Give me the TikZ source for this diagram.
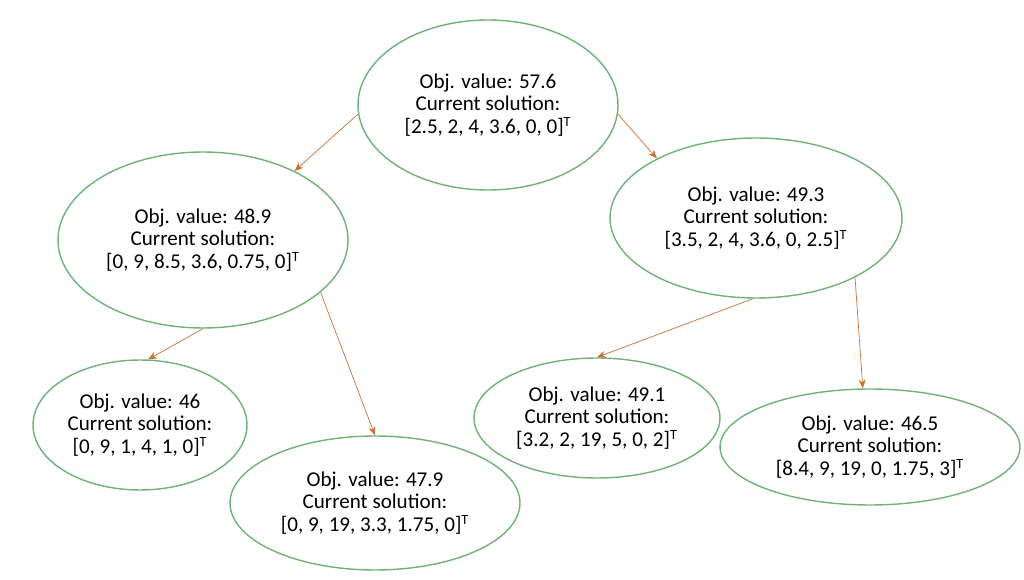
\documentclass[tikz,border=0pt]{standalone}
\usepackage{fontspec}
\setmainfont{Carlito}
\usetikzlibrary{shapes.geometric,arrows.meta}
\definecolor{ringgreen}{RGB}{112,178,118}
\definecolor{arrowbrown}{RGB}{200,112,52}
\newcommand{\solT}{$^{\mathrm{T}}$}
\begin{document}
\begin{tikzpicture}[x=0.02cm, y=-0.02cm,
  state/.style={draw=ringgreen, thick, shape=ellipse, align=center, inner sep=0pt,
  font=\fontsize{12}{13}\selectfont},
  branch/.style={draw=arrowbrown, -{Stealth[length=5pt,width=4pt]}}]
\useasboundingbox (0,0) rectangle (1024,580);
\node (root) [state, minimum width=5.2cm, minimum height=3.4cm] at (488,105)
  {Obj. value: 57.6\\ Current solution:\\ {[}2.5, 2, 4, 3.6, 0, 0{]}\solT};
\node (lmid) [state, minimum width=5.8cm, minimum height=3.52cm] at (203,240)
  {Obj. value: 48.9\\ Current solution:\\ {[}0, 9, 8.5, 3.6, 0.75, 0{]}\solT};
\node (rmid) [state, minimum width=5.84cm, minimum height=3.2cm] at (756,218)
  {Obj. value: 49.3\\ Current solution:\\ {[}3.5, 2, 4, 3.6, 0, 2.5{]}\solT};
\node (ll) [state, minimum width=4.28cm, minimum height=2.6cm] at (140,425)
  {Obj. value: 46\\ Current solution:\\ {[}0, 9, 1, 4, 1, 0{]}\solT};
\node (lm) [state, minimum width=5.8cm, minimum height=2.68cm] at (375,503)
  {Obj. value: 47.9\\ Current solution:\\ {[}0, 9, 19, 3.3, 1.75, 0{]}\solT};
\node (rm) [state, minimum width=4.92cm, minimum height=2.4cm] at (597,418)
  {Obj. value: 49.1\\ Current solution:\\ {[}3.2, 2, 19, 5, 0, 2{]}\solT};
\node (rr) [state, minimum width=6cm, minimum height=2.32cm] at (870,447)
  {Obj. value: 46.5\\ Current solution:\\ {[}8.4, 9, 19, 0, 1.75, 3{]}\solT};
\draw[branch] (root.184) -- (lmid.37);
\draw[branch] (root.-4) -- (rmid.149);
\draw[branch] (lmid.-90) -- (ll.83);
\draw[branch] (lmid.-24) -- (lm.90);
\draw[branch] (rmid.-92) -- (rm.90);
\draw[branch] (rmid.-31) -- (rr.97);
\end{tikzpicture}
\end{document}
